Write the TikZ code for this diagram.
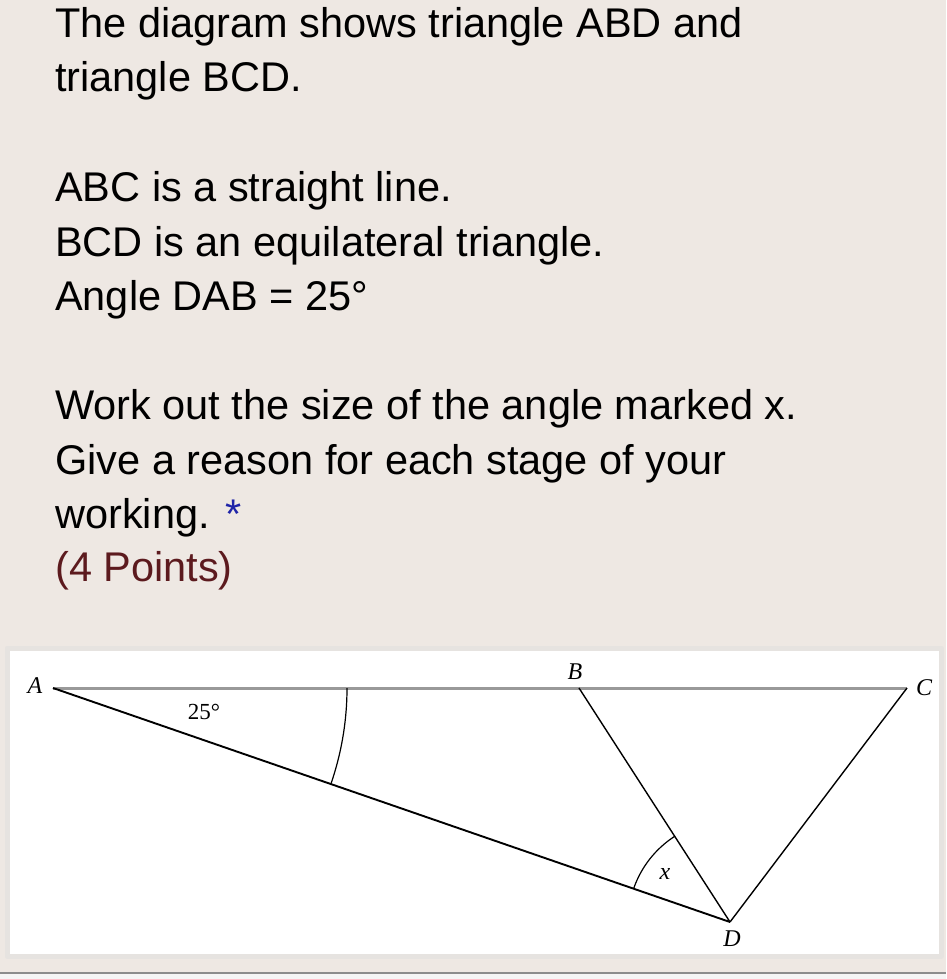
\documentclass[tikz,border=0pt]{standalone}
\usepackage{fontspec}
\setmainfont{Liberation Sans}
\newfontfamily\timesfont{Liberation Serif}
\usetikzlibrary{positioning}

\definecolor{pagebg}{HTML}{EEE8E3}
\definecolor{panelrim}{HTML}{E6E3E0}
\definecolor{starblue}{HTML}{1F24A8}
\definecolor{pointsred}{HTML}{5C1A1E}

\tikzset{
    qtext/.style={anchor=base west, inner sep=0pt, font=\fontsize{41.5}{50}\selectfont},
    ptlabel/.style={inner sep=0pt, font=\timesfont\itshape\fontsize{24}{27}\selectfont},
    anglabel/.style={inner sep=0pt, font=\timesfont\fontsize{23}{26}\selectfont},
    side/.style={draw=black, line width=1.4pt},
}

\begin{document}
\begin{tikzpicture}[x=1pt, y=-1pt, line join=round]
    % Page
    \fill[pagebg] (0,0) rectangle (946,979);
    \useasboundingbox (0,0) rectangle (946,979);

    % Question text
    \foreach \yy/\txt [count=\i] in {38/{The diagram shows triangle ABD and},
                                     92/{triangle BCD.},
                                     201/{ABC is a straight line.},
                                     256/{BCD is an equilateral triangle.},
                                     310/{Angle DAB = 25°},
                                     419/{Work out the size of the angle marked x.},
                                     474/{Give a reason for each stage of your},
                                     528/{working. \textcolor{starblue}{*}}}
        \node[qtext] (Q\i) at (55,\yy) {\txt};
    \node[qtext, text=pointsred] (Pts) at (55,581) {(4 Points)};

    % Picture panel
    \filldraw[fill=white, draw=panelrim, line width=5pt] (7,648) rectangle (941,956);
    \fill[white] (10,651) rectangle (938,953);
    \draw[gray!90, line width=1.5pt] (0,973) -- (946,973);
    \fill[white!96!black] (0,974) rectangle (946,979);

    % Points
    \coordinate (A) at (53,688);
    \coordinate (B) at (579,688);
    \coordinate (C) at (907,688);
    \coordinate (D) at (730,922);

    % Sides
    \draw[gray!80, line width=3pt] (A) -- (C);
    \draw[side, line width=1.9pt] (A) -- (D);
    \draw[side] (B) -- (D);
    \draw[side] (C) -- (D);

    % Angle marks
    \draw[black, line width=1.2pt] (A) ++(0:294) arc[start angle=0, end angle=19.07, radius=294];
    \draw[black, line width=1.2pt] (D) ++(199.07:102) arc[start angle=199.07, end angle=237.17, radius=102];

    % Labels
    \node[ptlabel] (lA) at (35,686) {A};
    \node[ptlabel] (lB) at (575,672) {B};
    \node[ptlabel] (lC) at (924,688) {C};
    \node[ptlabel] (lD) at (732,939) {D};
    \node[anglabel] (a25) at (204,712) {25°};
    \node[ptlabel] (ax) at (665,874) {x};
\end{tikzpicture}
\end{document}
